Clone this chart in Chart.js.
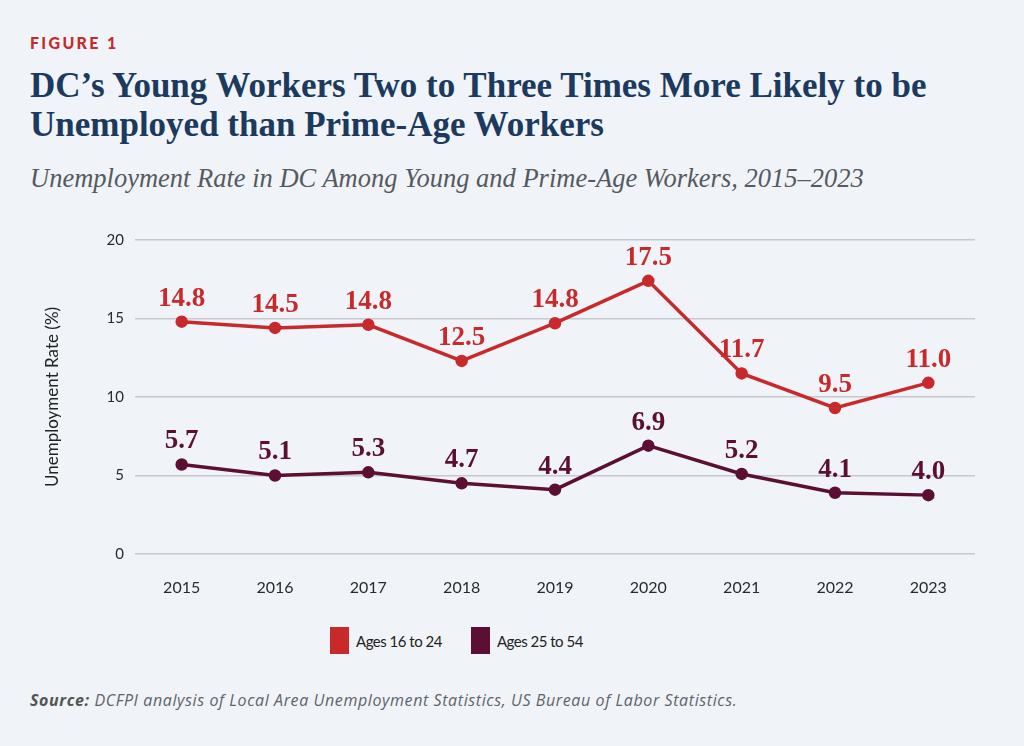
<!DOCTYPE html>
<html lang="en">
<head>
  <meta charset="UTF-8" />
  <title>DC Unemployment, Young vs Prime-Age Workers</title>
  <script src="https://cdn.jsdelivr.net/npm/chart.js"></script>
  <style>
    body {
      margin: 0;
      width: 1024px;
      height: 746px;
      overflow: hidden;
      background-color: #f0f4f9;
      position: relative;
      font-family: Lato, 'Open Sans', sans-serif;
    }

    .kicker {
      position: absolute;
      left: 30px;
      top: 33px;
      font-size: 16px;
      font-weight: 900;
      letter-spacing: 2.3px;
      color: #c62a2a;
    }

    h1 {
      position: absolute;
      left: 30px;
      top: 66px;
      margin: 0;
      font-family: 'Liberation Serif', serif;
      font-size: 35px;
      line-height: 39px;
      font-weight: bold;
      color: #1b3a5e;
    }

    .subtitle {
      position: absolute;
      left: 30px;
      top: 163px;
      font-family: 'Liberation Serif', serif;
      font-style: italic;
      font-size: 26.5px;
      color: #555a60;
    }

    #chart-box {
      position: absolute;
      left: 0;
      top: 220px;
      width: 985px;
      height: 385px;
    }

    .legend {
      position: absolute;
      left: 330px;
      top: 627px;
      display: flex;
      align-items: center;
      font-size: 15px;
      letter-spacing: -0.5px;
      color: #222;
    }

    .legend span.box {
      display: inline-block;
      width: 19px;
      height: 27px;
      margin-right: 7px;
    }

    .legend .item {
      display: flex;
      align-items: center;
      margin-right: 29px;
    }

    .source {
      position: absolute;
      left: 30px;
      top: 689px;
      font-family: 'Open Sans', sans-serif;
      font-size: 16px;
      letter-spacing: 0.6px;
      font-style: italic;
      color: #5f6368;
    }

    .source b {
      color: #555;
    }
  </style>
</head>
<body>

  <div class="kicker">FIGURE 1</div>
  <h1>DC’s Young Workers Two to Three Times More Likely to be<br>Unemployed than Prime-Age Workers</h1>
  <div class="subtitle">Unemployment Rate in DC Among Young and Prime-Age Workers, 2015–2023</div>

  <div id="chart-box"><canvas id="chart"></canvas></div>

  <div class="legend" id="legend"></div>

  <div class="source"><b>Source:</b> DCFPI analysis of Local Area Unemployment Statistics, US Bureau of Labor Statistics.</div>

  <script>
    // years on the x axis
    const years = ["2015", "2016", "2017", "2018", "2019", "2020", "2021", "2022", "2023"];

    // plotted values
    const youngRates = [14.8, 14.4, 14.6, 12.3, 14.7, 17.4, 11.5, 9.3, 10.9];
    const primeRates = [5.7, 5.0, 5.2, 4.5, 4.1, 6.9, 5.1, 3.9, 3.75];

    // labels as printed above each point
    const youngLabels = ["14.8", "14.5", "14.8", "12.5", "14.8", "17.5", "11.7", "9.5", "11.0"];
    const primeLabels = ["5.7", "5.1", "5.3", "4.7", "4.4", "6.9", "5.2", "4.1", "4.0"];

    const yTicks = [0, 5, 10, 15, 20];
    const seriesNames = ["Ages 16 to 24", "Ages 25 to 54"];

    const RED = "#c8292b";
    const MAROON = "#5c0f33";

    // draws the value text above every point
    const pointLabels = {
      id: "pointLabels",
      afterDatasetsDraw(chart) {
        const ctx = chart.ctx;
        ctx.save();
        ctx.font = "bold 27px 'Liberation Serif', serif";
        ctx.textAlign = "center";
        ctx.textBaseline = "middle";
        chart.data.datasets.forEach((ds, i) => {
          const meta = chart.getDatasetMeta(i);
          ctx.fillStyle = ds.borderColor;
          meta.data.forEach((pt, j) => {
            ctx.fillText(ds.valueLabels[j], pt.x, pt.y - 23);
          });
        });
        ctx.restore();
      }
    };

    const ctx = document.getElementById("chart").getContext("2d");
    new Chart(ctx, {
      type: "line",
      data: {
        labels: years,
        datasets: [
          {
            label: seriesNames[0],
            data: youngRates,
            valueLabels: youngLabels,
            borderColor: RED,
            backgroundColor: RED,
            borderWidth: 3.5,
            pointRadius: 4.5,
            pointHoverRadius: 4.5,
            tension: 0
          },
          {
            label: seriesNames[1],
            data: primeRates,
            valueLabels: primeLabels,
            borderColor: MAROON,
            backgroundColor: MAROON,
            borderWidth: 3.5,
            pointRadius: 4.5,
            pointHoverRadius: 4.5,
            tension: 0
          }
        ]
      },
      options: {
        responsive: true,
        maintainAspectRatio: false,
        animation: false,
        layout: { padding: { top: 18, right: 10, left: 0, bottom: 0 } },
        plugins: {
          legend: { display: false },
          tooltip: { enabled: false }
        },
        scales: {
          x: {
            offset: true,
            grid: { display: false },
            border: { display: false },
            ticks: {
              color: "#2a2a2a",
              font: { family: "Lato", size: 16 },
              padding: 16
            },
            afterFit(scale) { scale.height = 51; }
          },
          y: {
            min: 0,
            max: 20,
            afterBuildTicks(scale) {
              scale.ticks = yTicks.map(v => ({ value: v }));
            },
            grid: {
              color: "#c5c9cf",
              lineWidth: 1.5,
              drawTicks: false
            },
            border: { display: false },
            ticks: {
              color: "#2a2a2a",
              font: { family: "Lato", size: 15 },
              padding: 11
            },
            title: {
              display: true,
              text: "Unemployment Rate (%)",
              color: "#222",
              font: { family: "Lato", size: 17 },
              padding: { top: 42, bottom: 0 }
            },
            afterFit(scale) { scale.width = 135; }
          }
        }
      },
      plugins: [pointLabels]
    });

    // html legend built from the series names
    const legend = document.getElementById("legend");
    [RED, MAROON].forEach((c, i) => {
      const item = document.createElement("div");
      item.className = "item";
      item.innerHTML = '<span class="box" style="background:' + c + '"></span>' + seriesNames[i];
      legend.appendChild(item);
    });
  </script>

</body>
</html>
